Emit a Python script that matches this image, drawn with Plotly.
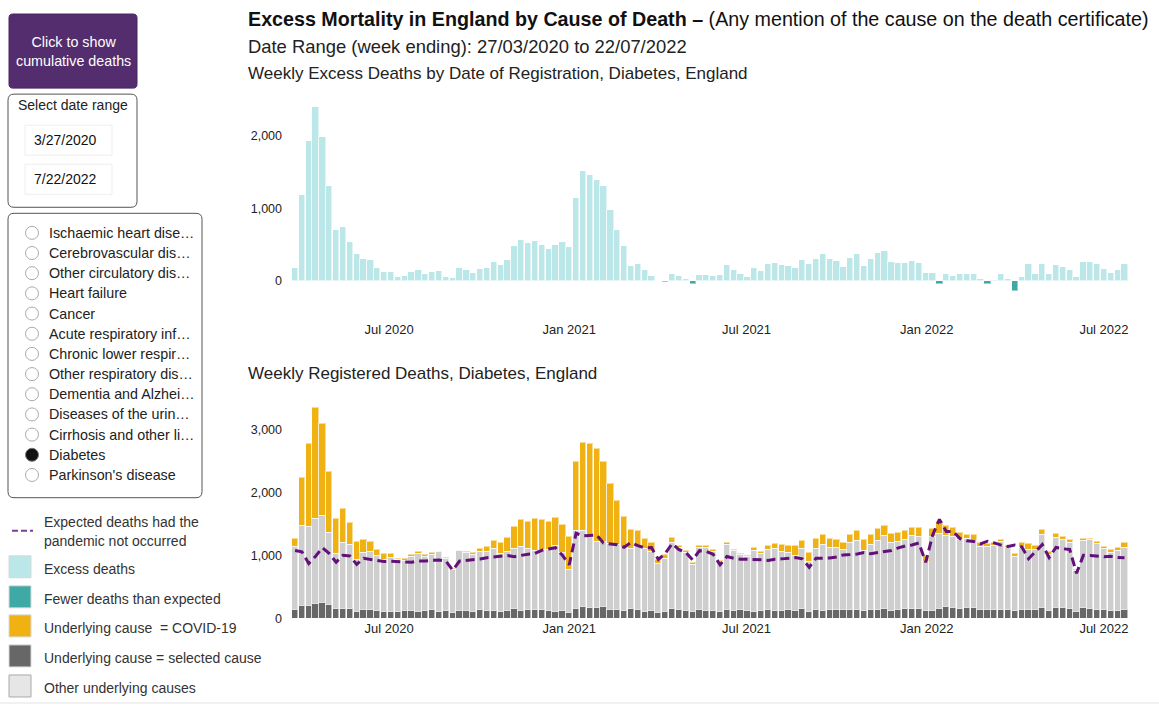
import pandas as pd
import plotly.graph_objects as go

W = 1159
H_LAYOUT = 714   # the page renders the plot area ~8px shorter than the layout height
H = 706          # effective pixel height used for placing decorations

# ---------------- data ----------------
week_ending = pd.date_range("2020-03-27", "2022-07-22", freq="7D")

excess = [
    183, 1185, 1918, 2389, 1977, 1309, 700, 737, 535, 371,
    297, 284, 178, 124, 124, 55, 69, 119, 146, 96,
    119, 142, 59, 37, 174, 146, 110, 165, 174, 256,
    220, 284, 481, 558, 522, 545, 494, 439, 490, 531,
    467, 1140, 1506, 1460, 1391, 1304, 970, 696, 485, 206,
    238, 151, 73, 2, -20, 101, 69, 27, -45, 78,
    87, 73, 78, 215, 146, 92, 55, 183, 133, 229,
    247, 220, 201, 183, 293, 233, 307, 375, 307, 270,
    192, 311, 371, 206, 297, 380, 416, 261, 243, 243,
    279, 243, 105, 105, -40, 96, 64, 101, 96, 101,
    23, -40, 9, 92, 23, -137, 59, 238, 101, 238,
    92, 215, 192, 151, 55, 265, 261, 229, 165, 105,
    156, 233,
]

selected_cause = [
    138, 196, 207, 228, 244, 212, 149, 149, 149, 106,
    133, 143, 122, 101, 101, 101, 122, 122, 112, 122,
    143, 101, 122, 96, 127, 117, 101, 133, 117, 127,
    112, 117, 149, 117, 133, 133, 138, 122, 101, 117,
    96, 149, 181, 165, 165, 181, 138, 138, 117, 159,
    143, 112, 117, 85, 101, 154, 133, 117, 101, 138,
    117, 117, 101, 133, 117, 133, 117, 112, 122, 133,
    117, 117, 133, 117, 149, 101, 143, 127, 133, 133,
    133, 138, 143, 117, 143, 138, 159, 117, 133, 149,
    149, 149, 117, 127, 149, 181, 165, 149, 165, 165,
    133, 138, 143, 143, 138, 117, 133, 133, 133, 165,
    117, 165, 165, 149, 101, 165, 149, 133, 138, 117,
    117, 143,
]

other_causes = [
    998, 1275, 1248, 1349, 1386, 1148, 871, 1051, 1019, 834,
    908, 914, 871, 839, 866, 828, 791, 855, 918, 855,
    866, 961, 829, 679, 946, 929, 908, 929, 945, 978,
    913, 940, 966, 1014, 977, 940, 961, 967, 1051, 919,
    685, 1237, 1205, 1131, 1051, 1035, 1052, 1025, 1009, 951,
    1009, 998, 950, 786, 850, 1052, 988, 929, 749, 988,
    1009, 950, 796, 1035, 956, 871, 855, 971, 898, 956,
    988, 950, 913, 880, 956, 802, 962, 1047, 988, 988,
    956, 1068, 1094, 961, 1025, 1089, 1153, 1083, 1083, 1104,
    1168, 1152, 791, 1169, 1195, 1125, 1125, 1099, 1094, 1067,
    1003, 993, 1015, 1068, 988, 860, 988, 961, 956, 1163,
    897, 1115, 1083, 1051, 658, 1062, 1094, 1051, 977, 934,
    956, 978,
]

covid = [
    123, 770, 1317, 1779, 1461, 977, 557, 537, 356, 271,
    207, 159, 101, 85, 63, 27, 43, 32, 27, 27,
    32, 5, 16, 16, 10, 21, 27, 43, 74, 122,
    175, 223, 345, 430, 430, 504, 468, 440, 447, 451,
    520, 1099, 1413, 1476, 1487, 1269, 956, 701, 488, 297,
    239, 159, 128, 64, 58, 79, 37, 27, 32, 26,
    21, 22, 16, 27, 26, 26, 21, 38, 42, 58,
    79, 96, 106, 150, 132, 133, 154, 154, 143, 122,
    111, 116, 154, 170, 154, 196, 164, 138, 144, 138,
    127, 138, 85, 127, 186, 165, 149, 112, 63, 90,
    59, 53, 48, 42, 32, 48, 74, 85, 69, 85,
    43, 58, 48, 43, 22, 32, 16, 32, 21, 38,
    48, 74,
]

expected = [
    1076, 1056, 870, 985, 1120, 1028, 890, 1000, 989, 855,
    951, 932, 916, 901, 906, 901, 887, 890, 911, 908,
    922, 925, 908, 762, 909, 921, 926, 940, 962, 971,
    980, 996, 979, 1003, 1018, 1032, 1080, 1100, 1120, 1000,
    850, 1350, 1310, 1315, 1320, 1195, 1185, 1168, 1128, 1201,
    1153, 1118, 1122, 933, 1029, 1184, 1089, 1046, 927, 1074,
    1060, 1016, 850, 980, 953, 938, 938, 938, 929, 918,
    937, 943, 951, 964, 944, 810, 952, 953, 957, 973,
    1006, 1011, 1020, 1044, 1025, 1043, 1060, 1077, 1117, 1148,
    1165, 1196, 888, 1318, 1570, 1378, 1377, 1265, 1230, 1221,
    1180, 1224, 1197, 1161, 1140, 1162, 1136, 945, 1057, 1170,
    965, 1125, 1104, 1092, 715, 1000, 998, 987, 975, 984,
    965, 962,
]

x_tick_vals = ["2020-07-01", "2021-01-01", "2021-07-01", "2022-01-01", "2022-07-01"]
x_tick_text = ["Jul 2020", "Jan 2021", "Jul 2021", "Jan 2022", "Jul 2022"]

causes = [
    "Ischaemic heart dise…", "Cerebrovascular dis…", "Other circulatory dis…",
    "Heart failure", "Cancer", "Acute respiratory inf…", "Chronic lower respir…",
    "Other respiratory dis…", "Dementia and Alzhei…", "Diseases of the urin…",
    "Cirrhosis and other li…", "Diabetes", "Parkinson's disease",
]
selected_name = "Diabetes"

# ---------------- styles ----------------
C_EXCESS = "#bce7e8"
C_FEWER = "#3fa9a5"
C_COVID = "#f0b213"
C_SEL = "#676767"
C_OTHER = "#cecece"
C_EXP = "#63107a"
FONT = "Liberation Sans, Arial, sans-serif"


def X(px):
    return px / W


def Y(py):
    return 1 - py / H


bar_w = 6.4 * 86400000
edge = dict(color="rgba(255,255,255,0.55)", width=1)

pos_x = [d for d, v in zip(week_ending, excess) if v >= 0]
pos_y = [v for v in excess if v >= 0]
neg_x = [d for d, v in zip(week_ending, excess) if v < 0]
neg_y = [v for v in excess if v < 0]

fig = go.Figure()
fig.add_trace(go.Bar(x=pos_x, y=pos_y, name="Excess deaths", marker=dict(color=C_EXCESS, line=edge),
                     width=bar_w, xaxis="x", yaxis="y"))
fig.add_trace(go.Bar(x=neg_x, y=neg_y, name="Fewer deaths than expected",
                     marker=dict(color=C_FEWER, line=dict(color="rgba(255,255,255,0.45)", width=1)),
                     width=bar_w, xaxis="x", yaxis="y"))

fig.add_trace(go.Bar(x=week_ending, y=selected_cause, name="Underlying cause = selected cause",
                     marker=dict(color=C_SEL, line=edge), width=bar_w, xaxis="x2", yaxis="y2"))
fig.add_trace(go.Bar(x=week_ending, y=other_causes, name="Other underlying causes",
                     marker=dict(color=C_OTHER, line=edge), width=bar_w, xaxis="x2", yaxis="y2"))
fig.add_trace(go.Bar(x=week_ending, y=covid, name="Underlying cause  = COVID-19",
                     marker=dict(color=C_COVID, line=edge), width=bar_w, xaxis="x2", yaxis="y2"))
fig.add_trace(go.Scatter(x=week_ending, y=expected, mode="lines",
                         name="Expected deaths had the pandemic not occurred",
                         line=dict(color=C_EXP, width=3, dash="9px,5px"), xaxis="x2", yaxis="y2"))

x_range = ["2020-03-19 20:00", "2022-07-27 14:00"]
x_dom = [X(288), X(1130)]
common_x = dict(domain=x_dom, range=x_range, type="date", tickvals=x_tick_vals, ticktext=x_tick_text,
                showgrid=False, zeroline=False, showline=False, ticks="",
                tickfont=dict(size=13, color="#222", family=FONT), fixedrange=True)
common_y = dict(showgrid=False, zeroline=False, showline=False, ticks="", tickformat=",",
                ticklabelstandoff=5,
                tickfont=dict(size=12.5, color="#222", family=FONT), fixedrange=True)

fig.update_layout(
    width=W, height=H_LAYOUT,
    margin=dict(l=0, r=0, t=0, b=0),
    paper_bgcolor="white", plot_bgcolor="white",
    barmode="stack", bargap=0,
    showlegend=False,
    font=dict(family=FONT, color="#222"),
    xaxis=dict(anchor="y", ticklabelstandoff=3, **common_x),
    yaxis=dict(anchor="x", domain=[Y(317), Y(95)], range=[-499, 2551],
               tickvals=[0, 1000, 2000], **common_y),
    xaxis2=dict(anchor="y2", ticklabelstandoff=1, **common_x),
    yaxis2=dict(anchor="x2", domain=[Y(617.3), Y(395)], range=[0, 3540],
                tickvals=[0, 1000, 2000, 3000], **common_y),
)

shapes = []
annotations = []


def ann(px, py, text, size=14, color="#222", xanchor="left", align="left"):
    annotations.append(dict(x=X(px), y=Y(py), xref="paper", yref="paper", text=text, showarrow=False,
                            xanchor=xanchor, yanchor="middle", align=align,
                            font=dict(size=size, color=color, family=FONT)))


def rrect(x0, y0, x1, y1, r, line_color="#555", fill="white", lw=1):
    p = (f"M {X(x0 + r)},{Y(y0)} L {X(x1 - r)},{Y(y0)} Q {X(x1)},{Y(y0)} {X(x1)},{Y(y0 + r)} "
         f"L {X(x1)},{Y(y1 - r)} Q {X(x1)},{Y(y1)} {X(x1 - r)},{Y(y1)} "
         f"L {X(x0 + r)},{Y(y1)} Q {X(x0)},{Y(y1)} {X(x0)},{Y(y1 - r)} "
         f"L {X(x0)},{Y(y0 + r)} Q {X(x0)},{Y(y0)} {X(x0 + r)},{Y(y0)} Z")
    shapes.append(dict(type="path", path=p, xref="paper", yref="paper", fillcolor=fill,
                       line=dict(color=line_color, width=lw)))


def rect(x0, y0, x1, y1, fill, line_color, lw=1):
    shapes.append(dict(type="rect", xref="paper", yref="paper", x0=X(x0), x1=X(x1), y0=Y(y1), y1=Y(y0),
                       fillcolor=fill, line=dict(color=line_color, width=lw)))


def circle(cx, cy, r, fill, line_color, lw=1):
    shapes.append(dict(type="circle", xref="paper", yref="paper", x0=X(cx - r), x1=X(cx + r),
                       y0=Y(cy + r), y1=Y(cy - r), fillcolor=fill, line=dict(color=line_color, width=lw)))


# titles
ann(246, 19, "<b>Excess Mortality in England by Cause of Death –</b> (Any mention of the cause on the death certificate)",
    size=19.7, color="#111")
ann(246, 46, "Date Range (week ending): 27/03/2020 to 22/07/2022", size=18.4, color="#222")
ann(246, 73, "Weekly Excess Deaths by Date of Registration, Diabetes, England", size=17, color="#222")
ann(246, 373, "Weekly Registered Deaths, Diabetes, England", size=17, color="#222")

# button
rrect(9, 14, 137, 88, 4, line_color="#4a2462", fill="#532d6d")
ann(73, 51, "Click to show<br>cumulative deaths", size=14.3, color="white", xanchor="center", align="center")

# date range box
rrect(8, 94, 137, 207, 6, line_color="#555")
ann(73, 105, "Select date range", size=14, color="#222", xanchor="center")
rect(25, 125, 112, 155, "white", "#eeeeee")
rect(25, 164, 112, 194, "white", "#eeeeee")
ann(32, 140, "3/27/2020", size=14, color="#111")
ann(32, 179, "7/22/2022", size=14, color="#111")

# cause radio list
rrect(8, 213, 202, 497, 6, line_color="#555")
for k, name in enumerate(causes):
    cy = 232.5 + 20.15 * k
    if name == selected_name:
        circle(32, cy, 6.5, "#111", "#777", 1)
    else:
        circle(32, cy, 6.5, "white", "#aaaaaa", 1)
    ann(47, cy, name, size=14.3, color="#222")

# legend
shapes.append(dict(type="line", xref="paper", yref="paper", x0=X(12), x1=X(33), y0=Y(530), y1=Y(530),
                   line=dict(color="#7b3f9e", width=2, dash="6px,3px")))
ann(42, 521, "Expected deaths had the", size=14, color="#333")
ann(42, 540, "pandemic not occurred", size=14, color="#333")
legend_items = [
    (C_EXCESS, "#d8d8d8", "Excess deaths", 555),
    (C_FEWER, "#d8d8d8", "Fewer deaths than expected", 585),
    (C_COVID, "#d8d8d8", "Underlying cause  = COVID-19", 614),
    (C_SEL, "#d8d8d8", "Underlying cause = selected cause", 644),
    ("#e6e6e6", "#aaaaaa", "Other underlying causes", 674),
]
for fill, lc, label, y0 in legend_items:
    rect(9, y0, 31, y0 + 22, fill, lc)
    ann(42, y0 + 13, label.replace("  ", "&nbsp; "), size=14, color="#333")

# page bottom rule
shapes.append(dict(type="line", xref="paper", yref="paper", x0=0, x1=1, y0=Y(702), y1=Y(702),
                   line=dict(color="#e3e3e3", width=1)))

fig.update_layout(shapes=shapes, annotations=annotations)
fig.write_html("out.html")
